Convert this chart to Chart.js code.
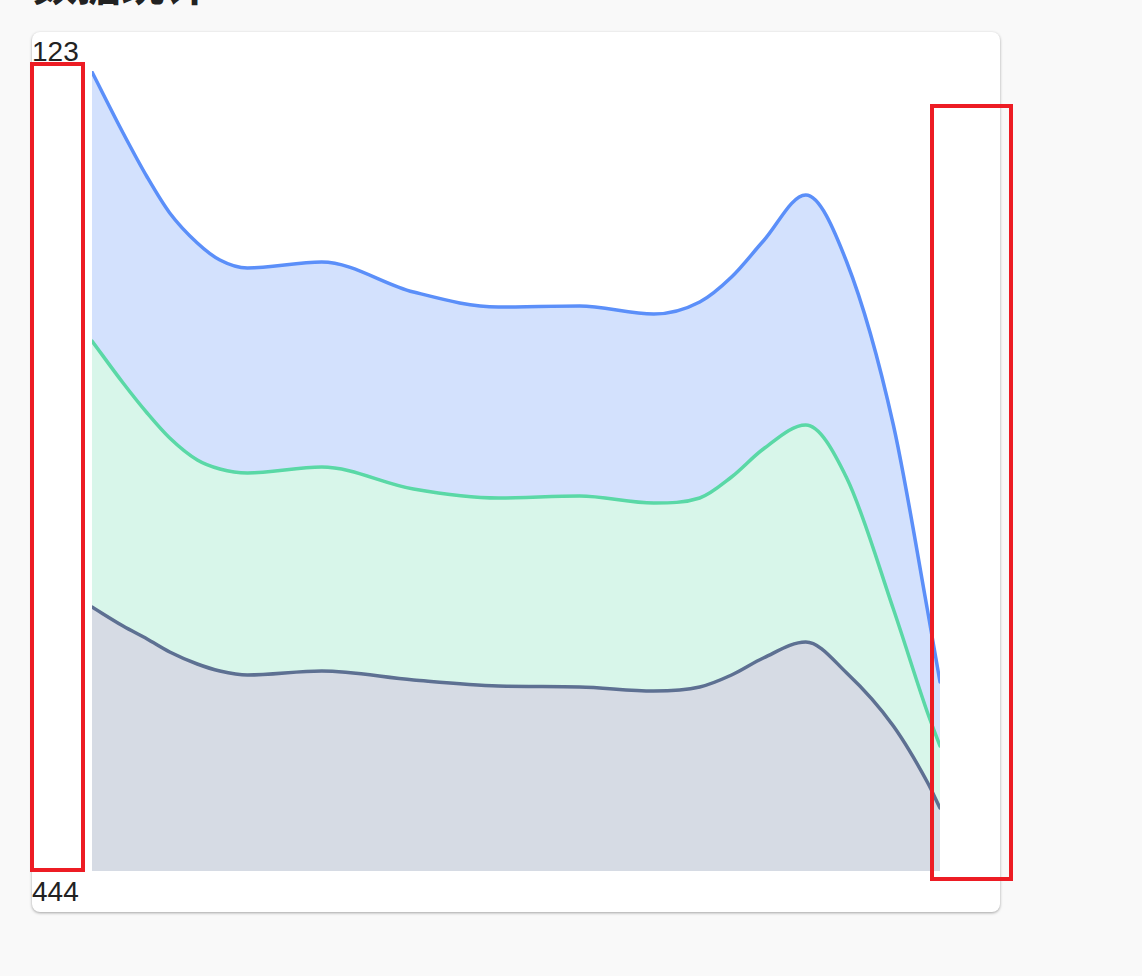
<!DOCTYPE html>
<html>
<head>
<meta charset="utf-8">
<script src="https://cdn.jsdelivr.net/npm/chart.js@4"></script>
<style>
    body {
        margin: 0;
        background: #f9f9f9;
        width: 1142px;
        height: 976px;
        position: relative;
        overflow: hidden;
        font-family: "Liberation Sans", Arial, sans-serif;
    }
    .title {
        position: absolute;
        left: 33px;
        top: -40px;
        font-family: "Noto Sans CJK SC", sans-serif;
        font-size: 44px;
        line-height: 44px;
        font-weight: bold;
        color: #222;
    }
    .card {
        position: absolute;
        left: 32px;
        top: 32px;
        width: 968px;
        height: 880px;
        background: #fff;
        border-radius: 8px;
        box-shadow: 0 1px 3px rgba(0, 0, 0, 0.35);
    }
    .label {
        position: absolute;
        left: 0;
        font-size: 28px;
        line-height: 28px;
        color: #222;
    }
    #chartWrap {
        position: absolute;
        left: 50px;
        top: 29px;
    }
    .mark {
        position: absolute;
        box-sizing: border-box;
        border: 4px solid #ed1c24;
    }
</style>
</head>
<body>
<div class="title">数据统计</div>
<div class="card">
    <div class="label" style="top: 6px;">123</div>
    <div id="chartWrap"><canvas id="areaChart" width="868" height="820"></canvas></div>
    <div class="label" style="top: 846px;">444</div>
</div>
<div class="mark" style="left: 30px; top: 62px; width: 55px; height: 810px;"></div>
<div class="mark" style="left: 930px; top: 104px; width: 83px; height: 777px;"></div>

<script>
// x positions (time units) and the three stacked series
const xValues = [0, 4.4, 7.8, 11, 14.9, 18.1, 22, 32.5, 45.5, 57.5, 69, 79.5, 86, 90.5, 95, 101, 106.8, 113.4, 118.2, 120];
const seriesC = [264, 245, 232, 219, 207, 200, 196, 200, 191, 185, 184, 180, 184, 196, 213, 229, 198, 145, 89, 63];
const seriesB = [266, 243, 226, 214, 204, 202, 202, 204, 191, 188, 191, 188, 189, 198, 209, 217, 195, 117, 70, 62];
const seriesA = [269, 250, 236, 225, 217, 209, 205, 205, 197, 191, 190, 189, 196, 200, 208, 230, 216, 184, 103, 64];

const seriesNames = ['C', 'B', 'A'];
const lineColors = ['#5D7092', '#5AD8A6', '#5B8FF9'];
const fillColors = ['rgba(93, 112, 146, 0.25)', 'rgba(90, 216, 166, 0.24)', 'rgba(91, 143, 249, 0.27)'];

function toPoints(values) {
    return values.map((v, i) => ({ x: xValues[i], y: v }));
}

function drawAreaChart() {
    const ctx = document.getElementById('areaChart').getContext('2d');
    const allSeries = [seriesC, seriesB, seriesA];

    new Chart(ctx, {
        type: 'line',
        data: {
            datasets: allSeries.map((values, i) => ({
                label: seriesNames[i],
                data: toPoints(values),
                borderColor: lineColors[i],
                backgroundColor: fillColors[i],
                borderWidth: 3.5,
                borderCapStyle: 'round',
                borderJoinStyle: 'round',
                pointRadius: 0,
                cubicInterpolationMode: 'monotone',
                fill: i === 0 ? 'origin' : '-1'
            }))
        },
        options: {
            responsive: false,
            animation: false,
            layout: { padding: 10 },
            plugins: {
                legend: { display: false },
                tooltip: { enabled: false }
            },
            scales: {
                x: { type: 'linear', min: 0, max: 120, display: false },
                y: { stacked: true, min: 0, max: 800, display: false }
            }
        }
    });
}

window.onload = function() {
    drawAreaChart();
}
</script>
</body>
</html>
